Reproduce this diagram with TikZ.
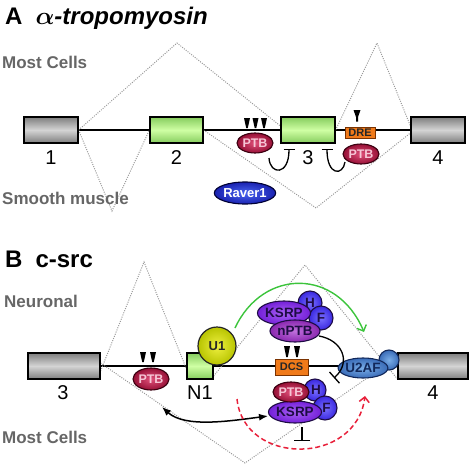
\documentclass[tikz,border=0pt]{standalone}
\usepackage{amsmath}
\usepackage{fontspec}
\setmainfont{Liberation Sans}
\usetikzlibrary{shapes.geometric,arrows.meta}
\pgfdeclarelayer{bg}
\pgfsetlayers{bg,main}
\newcommand\myfs[1]{\fontsize{#1}{#1}\selectfont}
\definecolor{lblgray}{HTML}{666666}
\definecolor{exdark}{HTML}{7E7E7E}
\definecolor{exlight}{HTML}{D4D4D4}
\definecolor{grdark}{HTML}{86CC5E}
\definecolor{grlight}{HTML}{CFFFA4}
\definecolor{ptbin}{HTML}{E0507A}
\definecolor{ptbout}{HTML}{961036}
\definecolor{ptbline}{HTML}{3A0010}
\definecolor{ptbtext}{HTML}{F6C6D6}
\definecolor{ravin}{HTML}{4A66F2}
\definecolor{ravout}{HTML}{1A22B0}
\definecolor{ksin}{HTML}{A860F4}
\definecolor{ksout}{HTML}{7420D8}
\definecolor{npin}{HTML}{C070DC}
\definecolor{npout}{HTML}{8A28B0}
\definecolor{hfin}{HTML}{7A70FF}
\definecolor{hfout}{HTML}{3A28E0}
\definecolor{protline}{HTML}{1E0C44}
\definecolor{u2in}{HTML}{7AAEE8}
\definecolor{u2out}{HTML}{3A6CB8}
\definecolor{u2line}{HTML}{12285A}
\definecolor{u1in}{HTML}{EEF040}
\definecolor{u1out}{HTML}{B8C400}
\definecolor{boxor}{HTML}{F07A1A}
\definecolor{boxline}{HTML}{7A3200}
\definecolor{splgray}{HTML}{9A9A9A}
\definecolor{grarrow}{HTML}{3CC43C}
\definecolor{rdarrow}{HTML}{E8203A}
\begin{document}
\begin{tikzpicture}[x=1pt,y=-1pt,
  exgray/.style={rectangle,draw=black,line width=1.2pt,inner sep=0pt,
    top color=exdark,bottom color=exdark,middle color=exlight},
  exgreen/.style={rectangle,draw=black,line width=1.2pt,inner sep=0pt,
    top color=grdark,bottom color=grdark,middle color=grlight},
  elp/.style={ellipse,inner sep=0pt,line width=1.1pt},
  ptb/.style={elp,draw=ptbline,inner color=ptbin,outer color=ptbout,
    text=ptbtext,font=\myfs{12.5}\bfseries},
  ksrp/.style={elp,draw=protline,inner color=ksin,outer color=ksout,
    text=protline,font=\myfs{13.5}\bfseries},
  nptb/.style={elp,draw=protline,inner color=npin,outer color=npout,
    text=protline,font=\myfs{13.5}\bfseries},
  hf/.style={circle,inner sep=0pt,line width=1.1pt,draw=protline,
    inner color=hfin,outer color=hfout,text=protline,font=\myfs{13.5}\bfseries},
  obox/.style={rectangle,draw=boxline,line width=1pt,fill=boxor,inner sep=0pt,
    text=black!85,font=\myfs{11}\bfseries},
  splice/.style={splgray,line width=1pt,dash pattern=on 1pt off 1.3pt},
  intron/.style={black,line width=1.3pt},
  exnum/.style={font=\myfs{20},inner sep=0pt},
  celllbl/.style={font=\myfs{17}\bfseries,text=lblgray,anchor=west,inner sep=0pt},
  titlelbl/.style={font=\myfs{24}\bfseries,anchor=west,inner sep=0pt},
  inhib/.style={black,line width=1.3pt,-{Bar[width=11pt,line width=1.3pt]}},
]
\useasboundingbox (0,0) rectangle (474,474);

% ================= Panel A =================
\node[titlelbl] (tA) at (5,18) {A\hspace{13pt}\textit{$\boldsymbol{\alpha}$-tropomyosin}};
\node[celllbl] (mcA) at (2,62) {Most Cells};
\node[celllbl] (smA) at (2,198) {Smooth muscle};

\node[exgray,minimum width=54pt,minimum height=26pt] (e1) at (51,130) {};
\node[exgreen,minimum width=53pt,minimum height=26pt] (e2) at (176.5,130) {};
\node[exgreen,minimum width=54pt,minimum height=26pt] (e3) at (308,130) {};
\node[exgray,minimum width=54pt,minimum height=26pt] (e4) at (438,130) {};
\node[exnum] (n1) at (51,158) {1};
\node[exnum] (n2) at (176.5,158) {2};
\node[exnum] (n3) at (308,158) {3};
\node[exnum] (n4) at (438,158) {4};

\coordinate (pA1) at (177,43);
\coordinate (pA2) at (377,43);
\coordinate (dA1) at (112,211);
\coordinate (dA2) at (316,208);

\node[obox,minimum width=30pt,minimum height=11pt] (dre) at (360,132.5) {DRE};
\node[ptb,minimum width=36pt,minimum height=20pt] (ptbA1) at (255,143) {PTB};
\node[ptb,minimum width=36pt,minimum height=20pt] (ptbA2) at (361,154) {PTB};
\node[elp,draw=black!80!blue,inner color=ravin,outer color=ravout,text=white,
  font=\myfs{13}\bfseries,minimum width=56pt,minimum height=22pt] (raver) at (245,193) {Raver1};

\begin{pgfonlayer}{bg}
  \draw[intron] (e1.east) -- (e4.west);
  \draw[splice] (e1.east) -- (pA1) -- ([yshift=4pt]e3.west);
  \draw[splice] (e3.east) -- (pA2) -- ([yshift=4pt]e4.west);
  \draw[splice] (e1.east) -- (dA1) -- (e2.west);
  \draw[splice] (e2.east) -- (dA2) -- ([yshift=-3pt]e4.west);
\end{pgfonlayer}

% marks
\foreach \mx in {247,255.5,264}
  \fill (\mx-3,118) -- (\mx+3,118) -- (\mx+0.8,128) -- (\mx-0.8,128) -- cycle;
\fill (357-3.5,110) -- (357+3.5,110) -- (357+1,117) -- (357+1,121.5) -- (357-1,121.5) -- (357-1,117) -- cycle;

% inhibition hooks around exon 3
\coordinate (hL0) at (269,158);
\coordinate (hL1) at (289,149);
\coordinate (hR0) at (345,162);
\coordinate (hR1) at (327,149);
\draw[inhib] (hL0) .. controls (270,175) and (289,176) .. (hL1);
\draw[inhib] (hR0) .. controls (343,176) and (327,176) .. (hR1);

% ================= Panel B =================
\node[titlelbl] (tB) at (5,259) {B\hspace{13pt}c-src};
\node[celllbl] (nrB) at (4,301) {Neuronal};
\node[celllbl] (mcB) at (2,437) {Most Cells};

\node[exgray,minimum width=72pt,minimum height=26pt] (b3) at (64,366) {};
\node[exgreen,minimum width=26pt,minimum height=26pt] (bn1) at (200,366) {};
\node[exgray,minimum width=70pt,minimum height=26pt] (b4) at (433,366) {};
\node[exnum] (m3) at (63,393) {3};
\node[exnum] (mn1) at (200,393) {N1};
\node[exnum] (m4) at (433,393) {4};

\coordinate (pB1) at (144,262);
\coordinate (pB2) at (305,265);
\coordinate (dB1) at (245,463);

\begin{pgfonlayer}{bg}
  \draw[intron] (b3.east) -- (b4.west);
  \draw[splice] ([yshift=-5pt]b3.east) -- (pB1) -- ([yshift=-3pt]bn1.west);
  \draw[splice] ([yshift=-10pt]bn1.east) -- (pB2) -- ([yshift=-13pt]b4.west);
  \draw[splice] ([yshift=3pt]b3.east) -- (dB1) -- ([yshift=9pt]b4.west);
\end{pgfonlayer}

\node[ptb,minimum width=36pt,minimum height=22pt] (ptbB) at (151,379) {PTB};
\foreach \mx in {143,153}
  \fill (\mx-3,352) -- (\mx+3,352) -- (\mx+0.8,362) -- (\mx-0.8,362) -- cycle;

\node[circle,draw=black!85,line width=1.2pt,inner color=u1in,outer color=u1out,
  minimum size=38pt,inner sep=0pt,font=\myfs{13}\bfseries,text=black!85] (u1) at (217,346) {U1};

\node[obox,minimum width=33pt,minimum height=16pt] (dcs) at (291.5,367) {DCS};
\foreach \mx in {287,297}
  \fill (\mx-3,346) -- (\mx+3,346) -- (\mx+0.8,357) -- (\mx-0.8,357) -- cycle;

% upper complex
\node[hf,minimum size=24pt] (hU) at (310,303) {H};
\node[hf,minimum size=24pt] (fU) at (321,318) {F};
\node[ksrp,minimum width=48pt,minimum height=24pt] (kU) at (284,313) {KSRP};
\node[nptb,minimum width=50pt,minimum height=22pt] (npU) at (295,331) {nPTB};

% lower complex
\node[hf,minimum size=22pt] (hL) at (315,390) {\hspace{2pt}H};
\node[hf,minimum size=24pt] (fL) at (325,408) {\hspace{3pt}F};
\node[ksrp,minimum width=48pt,minimum height=22pt] (kL) at (295,412) {KSRP};
\node[ptb,minimum width=36pt,minimum height=20pt] (ptbL) at (291,392) {PTB};

% U2AF
\node[circle,draw=u2line,line width=1.1pt,inner color=u2in,outer color=u2out,
  minimum size=20pt,inner sep=0pt] (u2s) at (389,360) {};
\node[elp,draw=u2line,inner color=u2in,outer color=u2out,text=u2line,
  font=\myfs{13.5}\bfseries,minimum width=44pt,minimum height=20pt] (u2af) at (363,368) {U2AF};

% connectors
\coordinate (gS) at (235,328);
\coordinate (gE) at (364,332);
\draw[grarrow,line width=1.4pt,-{Straight Barb[length=5pt,width=10pt,line width=1.4pt]}]
  (gS) .. controls (263,268) and (337,268) .. (gE);

\coordinate (bkS) at (162,407);
\coordinate (bkE) at (268,416);
\draw[black,line width=1.5pt,{Latex[length=9pt,width=7pt]}-{Latex[length=9pt,width=7pt]}]
  (bkS) .. controls (185,428) and (230,421) .. (bkE);

\coordinate (rS) at (237,399);
\coordinate (rE) at (365,396);
\draw[rdarrow,line width=1.5pt,dash pattern=on 5pt off 3pt,
  -{Straight Barb[length=5pt,width=10pt,line width=1.5pt]}]
  (rS) .. controls (244,466) and (356,466) .. (rE);

\coordinate (iS) at (319,336);
\coordinate (iE) at (334,378);
\draw[black,line width=1.3pt,-{Bar[width=15pt,line width=1.3pt]}]
  (iS) .. controls (342,340) and (352,362) .. (iE);

\coordinate (tS) at (302,427);
\coordinate (tE) at (302,441);
\draw[black,line width=1.3pt,-{Bar[width=16pt,line width=1.3pt]}] (tS) -- (tE);
\end{tikzpicture}
\end{document}
